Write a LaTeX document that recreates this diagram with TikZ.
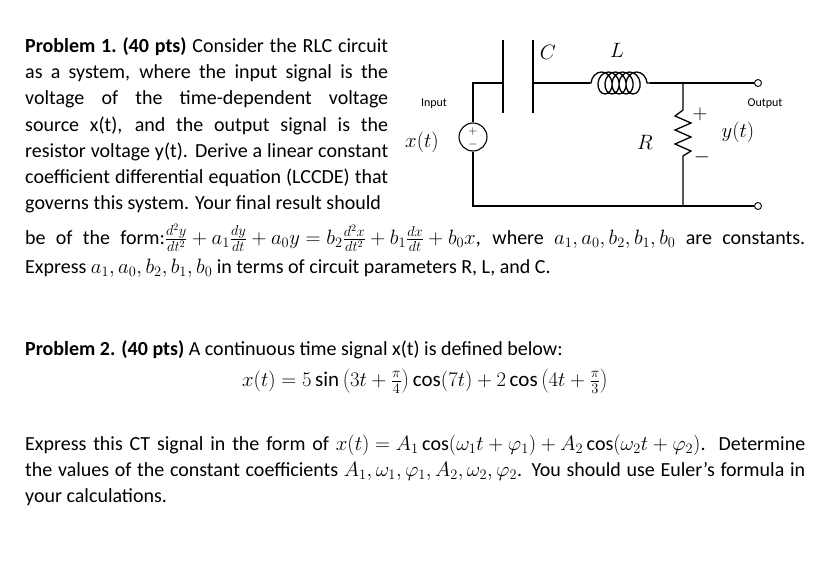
\documentclass[tikz,border=0pt]{standalone}
\usepackage{fontspec}
\setmainfont{Carlito}
\usetikzlibrary{decorations.pathmorphing}
\begin{document}
\begin{tikzpicture}[x=1pt,y=-1pt,
  txt/.style={anchor=west,inner sep=0pt,font=\fontsize{20}{22}\selectfont},
  wire/.style={line width=1.3pt},
  term/.style={circle,draw,line width=0.9pt,inner sep=0pt,minimum size=7pt,fill=white},
  lab/.style={font=\fontsize{21}{22}\selectfont\itshape},
  small/.style={font=\fontsize{12}{12}\selectfont}]
\useasboundingbox[fill=white] (0,0) rectangle (819,563);
% ---- text ----
\node[txt] (t1) at (25,47) {\makebox[363pt][s]{\textbf{Problem\ 1.\ (40\ pts)} Consider the RLC circuit}};
\node[txt] (t2) at (25,73) {\makebox[363pt][s]{as a system, where the input signal is the}};
\node[txt] (t3) at (25,99) {\makebox[363pt][s]{voltage of the time-dependent voltage}};
\node[txt] (t4) at (25,126) {\makebox[363pt][s]{source x(t), and the output signal is the}};
\node[txt] (t5) at (25,152) {\makebox[363pt][s]{resistor voltage y(t). Derive a linear constant}};
\node[txt] (t6) at (25,178) {\makebox[363pt][s]{coefficient differential equation (LCCDE) that}};
\node[txt] (t7) at (25,204) {governs this system. Your final result should};
\node[txt] (t8) at (25,238) {\makebox[780pt][s]{be of the form:\mbox{$\frac{d^2y}{dt^2}+a_1\frac{dy}{dt}+a_0y=b_2\frac{d^2x}{dt^2}+b_1\frac{dx}{dt}+b_0x$}, where \mbox{$a_1, a_0, b_2, b_1, b_0$} are constants.}};
\node[txt] (t9) at (25,268) {Express $a_1, a_0, b_2, b_1, b_0$ in terms of circuit parameters R, L, and C.};
\node[txt] (p2) at (25,350) {\textbf{Problem 2. (40 pts)} A continuous time signal x(t) is defined below:};
\node[txt,anchor=center,font=\fontsize{21}{22}\selectfont] (f2) at (425,381) {$x(t)=5\sin\left(3t+\frac{\pi}{4}\right)\cos(7t)+2\cos\left(4t+\frac{\pi}{3}\right)$};
\node[txt] (u1) at (25,445) {\makebox[780pt][s]{Express this CT signal in the form of \mbox{$x(t)=A_1\cos(\omega_1t+\varphi_1)+A_2\cos(\omega_2t+\varphi_2)$}. Determine}};
\node[txt] (u2) at (25,471) {\makebox[780pt][s]{the values of the constant coefficients \mbox{$A_1, \omega_1, \varphi_1, A_2, \omega_2, \varphi_2$}. You should use Euler’s formula in}};
\node[txt] (u3) at (25,497) {your calculations.};
% ---- circuit ----
\coordinate (bl) at (473,206);
\coordinate (tl) at (473,83);
\coordinate (c1) at (503,83);
\coordinate (c2) at (533,83);
\coordinate (l1) at (590,83);
\coordinate (l2) at (650,83);
\coordinate (rt) at (683,83);
\coordinate (rtop) at (683,110);
\coordinate (rbot) at (683,160);
\coordinate (rb) at (683,206);
\node[term] (o1) at (758,83) {};
\node[term] (o2) at (758,206) {};
\node[circle,draw,line width=1.1pt,minimum size=28pt,inner sep=0pt,fill=white] (src) at (473,137) {};
\node[font=\fontsize{12}{12}\selectfont,inner sep=0pt] (sp) at (473,131) {$+$};
\node[font=\fontsize{12}{12}\selectfont,inner sep=0pt] (sm) at (473,144) {$-$};
\draw[wire] (src.north) -- (tl) -- (c1);
\draw[wire] (src.south) -- (bl) -- (rb) -- (o2);
\draw[wire,line width=2pt] (503,40) -- (503,113);
\draw[wire,line width=2pt] (533,40) -- (533,113);
\draw[wire] (c2) -- (l1);
\draw[wire,decorate,decoration={coil,aspect=0.8,segment length=7pt,amplitude=11pt,pre length=1pt,post length=1pt}] (l1) -- (l2);
\draw[wire] (l2) -- (rt) -- (o1);
\draw[wire] (rt) -- (rtop) -- ++(-8,6) -- ++(16,7) -- ++(-16,7) -- ++(16,7) -- ++(-16,7) -- ++(16,7) -- ++(-8,5) -- (rbot) -- (rb);
\node[lab] (lc) at (548,52) {$C$};
\node[lab] (ll) at (617,50) {$L$};
\node[lab] (lr) at (645,142) {$R$};
\node[lab] (lx) at (422,142) {$x(t)$};
\node[lab] (ly) at (738,132) {$y(t)$};
\node[font=\fontsize{21}{21}\selectfont] (lp) at (700,114) {$+$};
\node[font=\fontsize{21}{21}\selectfont] (lm) at (702,157) {$-$};
\node[small] (li) at (434,104) {Input};
\node[small] (lo) at (765,104) {Output};
\end{tikzpicture}
\end{document}
